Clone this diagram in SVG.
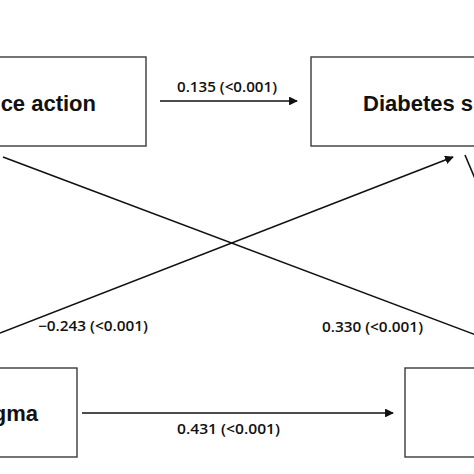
<svg xmlns="http://www.w3.org/2000/svg" width="474" height="474" viewBox="0 0 474 474">
<style>
.box{fill:#fff;stroke:#3a3a3a;stroke-width:1.4}
.node{font-family:"Liberation Sans",Arial,sans-serif;font-weight:bold;font-size:22px;fill:#111}
.lbl{font-family:"Open Sans","Liberation Sans",Arial,sans-serif;font-weight:600;font-size:14px;fill:#111}
.ln{stroke:#111;stroke-width:1.6;fill:none}
</style>
<defs>
<marker id="ah" viewBox="0 0 10 10" refX="9" refY="5" markerWidth="5.5" markerHeight="5.5" orient="auto" markerUnits="strokeWidth">
<path d="M0,0 L10,5 L0,10 z" fill="#111"/>
</marker>
</defs>
<rect width="474" height="474" fill="#fff"/>
<g id="node-action">
<rect class="box" x="-10" y="57" width="156" height="89"/>
<text class="node" x="96" y="111" text-anchor="end">ce action</text>
</g>
<g id="node-diabetes">
<rect class="box" x="311" y="57" width="175" height="89"/>
<text class="node" x="363" y="111">Diabetes s</text>
</g>
<g id="node-stigma">
<rect class="box" x="-10" y="368" width="87" height="89"/>
<text class="node" x="38" y="421" text-anchor="end">gma</text>
</g>
<g id="node-bottomright">
<rect class="box" x="405" y="368" width="81" height="89"/>
</g>
<g id="connectors">
<line class="ln" x1="160" y1="101" x2="297" y2="101" marker-end="url(#ah)"/>
<line class="ln" x1="82" y1="413" x2="393" y2="413" marker-end="url(#ah)"/>
<line class="ln" x1="0" y1="333" x2="453" y2="157" marker-end="url(#ah)"/>
<line class="ln" x1="3" y1="157" x2="476" y2="335"/>
<line class="ln" x1="465" y1="155" x2="476" y2="181"/>
<text class="lbl" x="177" y="92" textLength="100" lengthAdjust="spacingAndGlyphs">0.135 (&lt;0.001)</text>
<text class="lbl" x="177" y="434" textLength="103" lengthAdjust="spacingAndGlyphs">0.431 (&lt;0.001)</text>
<text class="lbl" x="38" y="331" textLength="110" lengthAdjust="spacingAndGlyphs">−0.243 (&lt;0.001)</text>
<text class="lbl" x="322" y="332" textLength="101" lengthAdjust="spacingAndGlyphs">0.330 (&lt;0.001)</text>
</g>
</svg>
